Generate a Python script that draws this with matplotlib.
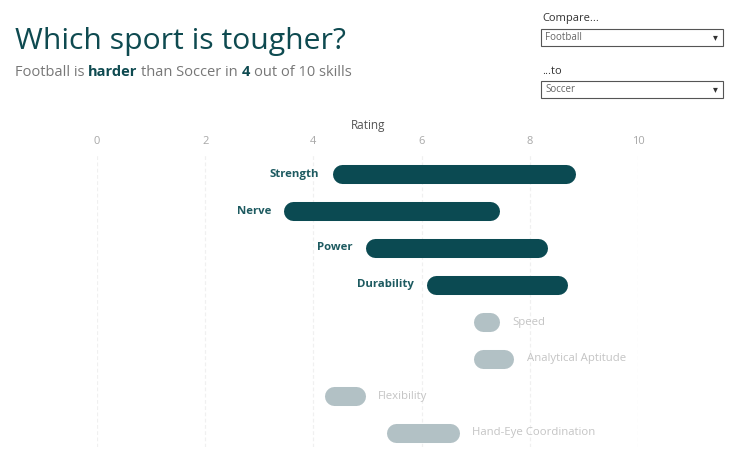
import matplotlib.pyplot as plt
from matplotlib.patches import Rectangle

# dados
skills = ["Strength", "Nerve", "Power", "Durability",
          "Speed", "Analytical Aptitude", "Flexibility", "Hand-Eye Coordination"]
soccer = [4.52, 3.63, 5.13, 6.26, 7.14, 7.14, 4.39, 5.52]
football = [8.66, 7.27, 8.16, 8.53, 7.27, 7.53, 4.78, 6.52]
harder = [True, True, True, True, False, False, False, False]
ticks = [0, 2, 4, 6, 8, 10]

dark = "#0b4a52"
grey_bar = "#b2c1c5"
label_dark = "#1d5a60"
label_grey = "#c4c4c4"
font = "Open Sans"

W, H = 736, 454
fig = plt.figure(figsize=(W / 100, H / 100), dpi=100)

# eixo principal (posição em pixels)
top, bottom = 155, 447
ax = fig.add_axes([97 / W, 1 - bottom / H, 541 / W, (bottom - top) / H])
ax.set_xlim(0, 10)
ax.set_ylim(7 + 14 / 37, -19 / 37)

for t in ticks:
    ax.axvline(t, color="#f0f0f0", lw=0.9, ls=(0, (3, 2)), zorder=0)

for i, s in enumerate(skills):
    lo, hi = soccer[i], football[i]
    if harder[i]:
        ax.plot([lo, hi], [i, i], color=dark, lw=13.7, solid_capstyle="round", zorder=2)
        ax.annotate(s, (min(lo, hi), i), xytext=(-16, 0), textcoords="offset points",
                    ha="right", va="center", fontsize=8.2, fontweight="bold",
                    color=label_dark, family=font)
    else:
        ax.plot([lo, hi], [i, i], color=grey_bar, lw=13.7, solid_capstyle="round", zorder=2)
        ax.annotate(s, (max(lo, hi), i), xytext=(16, 0), textcoords="offset points",
                    ha="left", va="center", fontsize=8.2, color=label_grey, family=font)

ax.xaxis.tick_top()
ax.set_xticks(ticks)
ax.set_xticklabels([str(t) for t in ticks], family=font, fontsize=8, color="#a8a8a8")
ax.tick_params(axis="x", length=0, pad=6)
ax.set_yticks([])
for sp in ax.spines.values():
    sp.set_visible(False)
fig.text(368 / W, 1 - 126 / H, "Rating", ha="center", va="center",
         fontsize=8.5, color="#555555", family=font)

# título e subtítulo
fig.text(15 / W, 1 - 41 / H, "Which sport is tougher?", ha="left", va="center",
         fontsize=21.7, color="#0e4a50", family=font)

parts = [("Football is", "normal", "#777777"), ("harder", "bold", "#0e4a50"),
         ("than Soccer in", "normal", "#777777"), ("4", "bold", "#0e4a50"),
         ("out of 10 skills", "normal", "#777777")]
renderer = fig.canvas.get_renderer()
x = 15
for txt, wt, col in parts:
    t = fig.text(x / W, 1 - 72 / H, txt, ha="left", va="center", fontsize=10.5,
                 fontweight=wt, color=col, family=font)
    x += t.get_window_extent(renderer).width + 3.8

# seletores
for ylab, ybox, val in [(19, 29, "Football"), (71, 81, "Soccer")]:
    fig.text(542 / W, 1 - ylab / H, "Compare..." if val == "Football" else "...to",
             ha="left", va="center", fontsize=8, color="#333333", family=font)
    fig.patches.append(Rectangle((541 / W, 1 - (ybox + 17) / H), 182 / W, 17 / H,
                                 transform=fig.transFigure, fill=False,
                                 edgecolor="#555555", lw=0.8))
    fig.text(545 / W, 1 - (ybox + 8.5) / H, val, ha="left", va="center",
             fontsize=7, color="#666666", family=font)
    fig.text(715 / W, 1 - (ybox + 8.5) / H, "\u25BE", ha="center", va="center",
             fontsize=7, color="#333333", family="DejaVu Sans")

fig.savefig("out.png", dpi=100)
